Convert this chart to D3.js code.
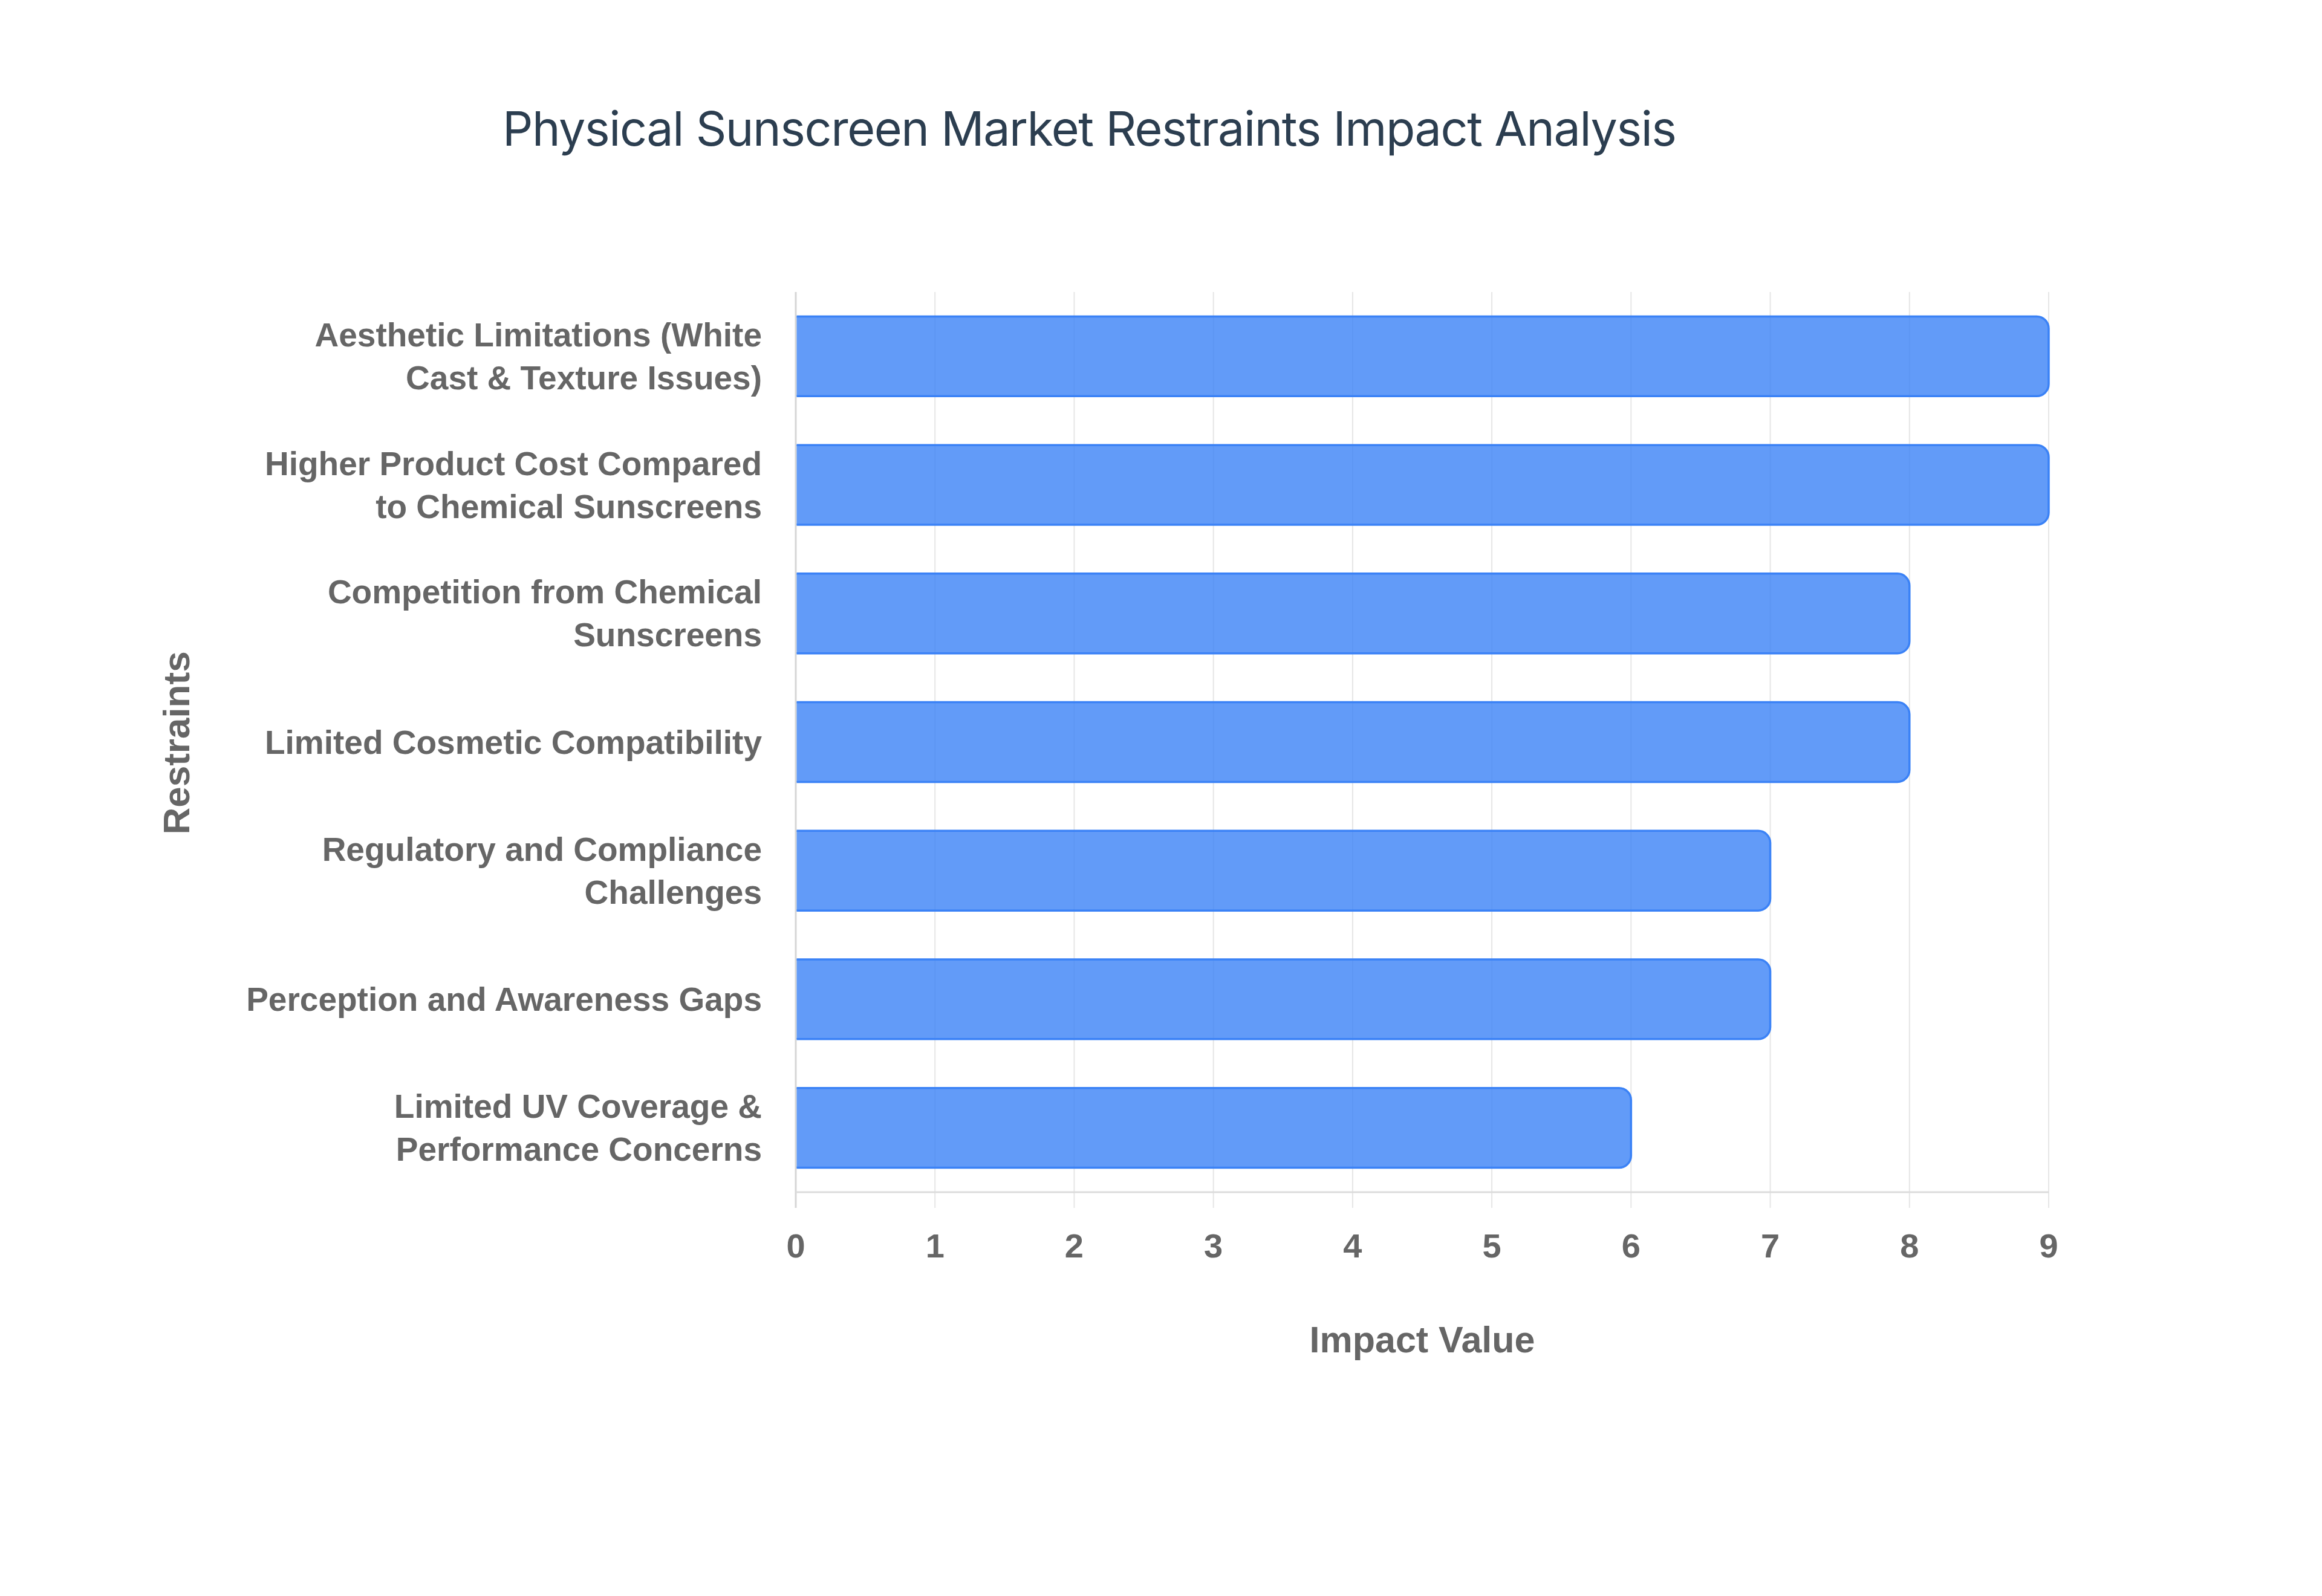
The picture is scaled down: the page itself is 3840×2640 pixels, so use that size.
<!DOCTYPE html>
<html>
<head>
<meta charset="utf-8">
<script src="https://cdn.jsdelivr.net/npm/d3@7"></script>
<style>
  html, body { margin: 0; padding: 0; background: #ffffff; }
  svg { display: block; }
</style>
</head>
<body>
<svg id="chart" width="3840" height="2640"></svg>
<script>
const categories = [
  "Aesthetic Limitations (White\nCast & Texture Issues)",
  "Higher Product Cost Compared\nto Chemical Sunscreens",
  "Competition from Chemical\nSunscreens",
  "Limited Cosmetic Compatibility",
  "Regulatory and Compliance\nChallenges",
  "Perception and Awareness Gaps",
  "Limited UV Coverage &\nPerformance Concerns"
];
const impactValues = [9, 9, 8, 8, 7, 7, 6];
const xTicks = [0, 1, 2, 3, 4, 5, 6, 7, 8, 9];
const titleText = "Physical Sunscreen Market Restraints Impact Analysis";
const xTitle = "Impact Value";
const yTitle = "Restraints";

const svg = d3.select("#chart");
svg.append("rect").attr("width", 3840).attr("height", 2640).attr("fill", "#ffffff");

const plot = { left: 1316, right: 3388, top: 483, bottom: 1972 };

const x = d3.scaleLinear().domain([0, 9]).range([plot.left, plot.right]);
const y = d3.scaleBand().domain(categories).range([plot.top, plot.bottom])
  .paddingInner(0.38).paddingOuter(0.19);

const labelFont = "'Liberation Sans', Arial, sans-serif";

// Gridlines (extend below axis as ticks)
const grid = svg.append("g");
grid.selectAll("line").data(xTicks).join("line")
  .attr("x1", d => x(d)).attr("x2", d => x(d))
  .attr("y1", plot.top).attr("y2", plot.bottom + 26)
  .attr("stroke", d => d === 0 ? "#d6d6d6" : "#e6e6e6")
  .attr("stroke-width", d => d === 0 ? 3 : 2);

// Bottom axis line
svg.append("line")
  .attr("x1", plot.left).attr("x2", plot.right)
  .attr("y1", plot.bottom).attr("y2", plot.bottom)
  .attr("stroke", "#dcdcdc").attr("stroke-width", 3);

// Bars: square left, rounded right
const r = 20;
function barPath(d, i) {
  const cat = categories[i];
  const x0 = x(0) + 1.5, x1 = x(d);
  const y0 = y(cat), y1 = y(cat) + y.bandwidth();
  const p = d3.path();
  p.moveTo(x0, y0);
  p.lineTo(x1 - r, y0);
  p.arcTo(x1, y0, x1, y0 + r, r);
  p.lineTo(x1, y1 - r);
  p.arcTo(x1, y1, x1 - r, y1, r);
  p.lineTo(x0, y1);
  return p.toString();
}
svg.append("g").selectAll("path").data(impactValues).join("path")
  .attr("d", (d, i) => barPath(d, i))
  .attr("fill", "rgba(59,130,246,0.8)")
  .attr("stroke", "#3b82f6")
  .attr("stroke-width", 3.5)
  .attr("stroke-linejoin", "round");

// X tick labels
svg.append("g").selectAll("text").data(xTicks).join("text")
  .attr("x", d => x(d)).attr("y", 2080)
  .attr("text-anchor", "middle")
  .attr("font-family", labelFont).attr("font-weight", "bold")
  .attr("font-size", 56).attr("fill", "#666666")
  .text(d => d);

// Y category labels
const lineH = 71;
const yl = svg.append("g");
categories.forEach(cat => {
  const lines = cat.split("\n");
  const c = y(cat) + y.bandwidth() / 2;
  const t = yl.append("text")
    .attr("text-anchor", "end")
    .attr("font-family", labelFont).attr("font-weight", "bold")
    .attr("font-size", 55).attr("fill", "#666666");
  lines.forEach((ln, k) => {
    t.append("tspan")
      .attr("x", 1260)
      .attr("y", c + 19 + (k - (lines.length - 1) / 2) * lineH)
      .text(ln);
  });
});

// Axis titles
svg.append("text")
  .attr("x", (plot.left + plot.right) / 2).attr("y", 2237)
  .attr("text-anchor", "middle")
  .attr("font-family", labelFont).attr("font-weight", "bold")
  .attr("font-size", 61).attr("fill", "#666666")
  .text(xTitle);

svg.append("text")
  .attr("transform", "translate(313,1229) rotate(-90)")
  .attr("text-anchor", "middle")
  .attr("font-family", labelFont).attr("font-weight", "bold")
  .attr("font-size", 62).attr("fill", "#666666")
  .text(yTitle);

// Title
svg.append("text")
  .attr("x", 831).attr("y", 241)
  .attr("text-anchor", "start")
  .attr("font-family", "Inter, 'Liberation Sans', sans-serif")
  .attr("font-weight", 400)
  .attr("font-size", 79).attr("fill", "#2c3e50")
  .attr("textLength", 1942).attr("lengthAdjust", "spacing")
  .text(titleText);
</script>
</body>
</html>
